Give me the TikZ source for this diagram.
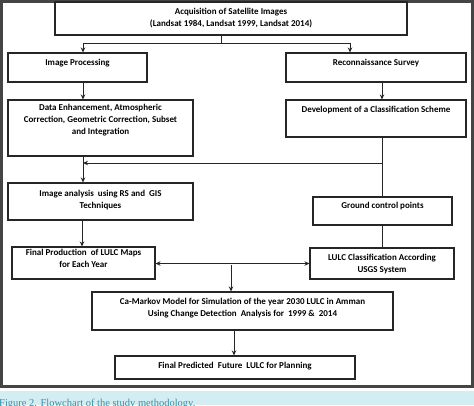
\documentclass[tikz,border=0pt]{standalone}
\usepackage{fontspec}
\setmainfont{Carlito}
\newfontfamily\capfont{Liberation Serif}
\usetikzlibrary{arrows.meta}
\definecolor{frame}{HTML}{454545}
\definecolor{capbg}{HTML}{D3EEF3}
\definecolor{capfg}{HTML}{3A8EA3}
\begin{document}
\begin{tikzpicture}[x=1pt,y=-1pt,
  flowbox/.style={draw=black!85,line width=1.1pt,rectangle,inner sep=0pt},
  lbl/.style={font=\bfseries\fontsize{9}{12}\selectfont,align=center,inner sep=0pt},
  conn/.style={draw=black!85,line width=0.9pt},
  arr/.style={conn,-{Stealth[length=5pt,width=4.5pt]}},
  darr/.style={conn,{Stealth[length=5pt,width=4.5pt]}-{Stealth[length=5pt,width=4.5pt]}}]
\useasboundingbox (0,0) rectangle (474,405);
\clip (0,0) rectangle (474,405);
\fill[white] (0,0) rectangle (474,405);
% caption band
\fill[capbg] (0,391) rectangle (474,405);
\node[anchor=base west,inner sep=0pt,text=capfg,font=\capfont\fontsize{10.5}{12}\selectfont] (cap) at (-1,406.5) {Figure 2. Flowchart of the study methodology.};
% outer frame
\draw[frame,line width=3pt] (1.5,1.5) rectangle (472.5,386.5);
% boxes
\node[flowbox,minimum width=352pt,minimum height=33pt] (acq) at (231,18.5) {};
\node[flowbox,minimum width=139pt,minimum height=29pt] (ip) at (77.5,67.5) {};
\node[flowbox,minimum width=180pt,minimum height=29pt] (rs) at (376,67.5) {};
\node[flowbox,minimum width=185pt,minimum height=56pt] (de) at (100.5,128) {};
\node[flowbox,minimum width=180pt,minimum height=37pt] (dev) at (376,118.5) {};
\node[flowbox,minimum width=185pt,minimum height=37pt] (ia) at (100.5,201.5) {};
\node[flowbox,minimum width=139pt,minimum height=28pt] (gcp) at (382.5,211) {};
\node[flowbox,minimum width=143pt,minimum height=32pt] (fp) at (83.5,263) {};
\node[flowbox,minimum width=144pt,minimum height=31pt] (lulc) at (382,263.5) {};
\node[flowbox,minimum width=301pt,minimum height=38pt] (ca) at (242.5,311) {};
\node[flowbox,minimum width=240pt,minimum height=23pt] (fin) at (235,367.5) {};
% texts
\node[lbl] (acqT) at (231,18.5) {Acquisition of Satellite Images\\(Landsat 1984, Landsat 1999, Landsat 2014)};
\node[lbl] (ipT) at (77.5,63) {Image Processing};
\node[lbl] (rsT) at (376,63) {Reconnaissance Survey};
\node[lbl] (deT) at (100.5,120.5) {Data Enhancement, Atmospheric\\Correction, Geometric Correction, Subset\\and Integration};
\node[lbl] (devT) at (376,110) {Development of a Classification Scheme};
\node[lbl] (iaT) at (100.5,200) {Image analysis\ \ using RS and\ \ GIS\\Techniques};
\node[lbl] (gcpT) at (382.5,206) {Ground control points};
\node[lbl] (fpT) at (83.5,258) {Final Production\ \ of LULC Maps\\for Each Year};
\node[lbl] (lulcT) at (382,264) {LULC Classification According\\USGS System};
\node[lbl] (caT) at (242.5,308) {Ca-Markov Model for Simulation of the year 2030 LULC in Amman\\Using Change Detection\ \ Analysis for\ \ 1999 \&\ \ 2014};
\node[lbl] (finT) at (235,366) {Final Predicted\ \ Future\ \ LULC for Planning};
% connectors
\coordinate (j1) at (221,43);
\draw[conn] (acq.south -| j1) -- (j1);
\draw[conn] (83,43) -- (350,43);
\draw[arr] (83,43) -- (83,0 |- ip.north);
\draw[arr] (350,43) -- (350,0 |- rs.north);
\draw[arr] (ip.south -| 83,0) -- (de.north -| 83,0);
\draw[arr] (rs.south -| 382,0) -- (dev.north -| 382,0);
\draw[conn] (dev.south -| 382,0) -- (gcp.north -| 382,0);
\coordinate (b1) at (382,163);
\coordinate (b2) at (83,163);
\draw[arr] (b1) -- (b2);
\draw[arr] (de.south -| 83,0) -- (ia.north -| 83,0);
\draw[arr] (ia.south -| 82,0) -- (fp.north -| 82,0);
\draw[conn] (gcp.south -| 382,0) -- (lulc.north -| 382,0);
\draw[darr] (fp.east |- 0,263.5) -- (lulc.west |- 0,263.5);
\coordinate (m1) at (231,265);
\draw[arr] (m1) -- (ca.north -| m1);
\draw[arr] (ca.south -| 234,0) -- (fin.north -| 234,0);
\end{tikzpicture}
\end{document}
